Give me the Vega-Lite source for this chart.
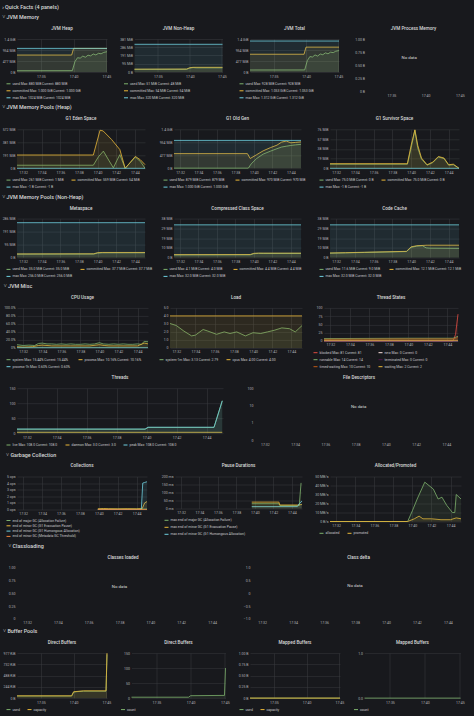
{
  "$schema": "https://vega.github.io/schema/vega-lite/v6.json",
  "background": "#18191d",
  "padding": {"left": 2, "top": 4, "right": 9, "bottom": 4.5},
  "title": {"text": "›  Quick Facts   (4 panels)", "anchor": "start", "fontSize": 5.4, "fontWeight": 500, "color": "#d8d9da", "offset": 5},
  "spacing": 4.3,
  "resolve": {"scale": {"color": "independent"}, "legend": {"color": "independent"}},
  "config": {
    "font": "Roboto",
    "view": {"stroke": null},
    "title": {"color": "#d8d9da", "fontSize": 4.6, "fontWeight": 500, "offset": 6.5},
    "axis": {"labelFontSize": 3.5, "labelColor": "#b0b1b4", "gridColor": "#3a3c41", "gridWidth": 0.5, "domain": false, "ticks": false, "labelPadding": 2, "labelOverlap": false},
    "axisX": {"labelFlush": false},
    "legend": {"orient": "none", "direction": "horizontal", "legendX": -11, "symbolType": "stroke", "symbolSize": 16, "symbolStrokeWidth": 1, "labelFontSize": 3.4, "labelColor": "#c7c8ca", "rowPadding": 2, "columnPadding": 5, "labelOffset": 1.5, "padding": 0, "gridAlign": "none"},
    "text": {"font": "Roboto"}
  },
  "datasets": {
    "jvmHeap": [
      {"s":"used","t":31.35,"v":55},{"s":"used","t":35,"v":56},{"s":"used","t":39.8,"v":58},{"s":"used","t":40.2,"v":450},{"s":"used","t":40.6,"v":620},{"s":"used","t":41,"v":600},{"s":"used","t":41.4,"v":690},{"s":"used","t":41.8,"v":640},{"s":"used","t":42.2,"v":730},{"s":"used","t":42.6,"v":700},{"s":"used","t":43,"v":780},{"s":"used","t":43.4,"v":740},{"s":"used","t":43.8,"v":810},{"s":"used","t":44.2,"v":790},{"s":"used","t":44.6,"v":850},{"s":"used","t":45.1,"v":880},
      {"s":"committed","t":31.35,"v":735},{"s":"committed","t":39.7,"v":735},{"s":"committed","t":40,"v":1024},{"s":"committed","t":45.1,"v":1024},
      {"s":"max","t":31.35,"v":1024},{"s":"max","t":45.1,"v":1024}
    ],
    "jvmNonHeap": [
      {"s":"used","t":31.35,"v":30},{"s":"used","t":39.5,"v":31},{"s":"used","t":40,"v":45},{"s":"used","t":40.5,"v":51},{"s":"used","t":41,"v":48},{"s":"used","t":45.1,"v":48},
      {"s":"committed","t":31.35,"v":33},{"s":"committed","t":39.5,"v":34},{"s":"committed","t":40,"v":50},{"s":"committed","t":40.5,"v":54},{"s":"committed","t":45.1,"v":54},
      {"s":"max","t":31.35,"v":320},{"s":"max","t":45.1,"v":320}
    ],
    "jvmTotal": [
      {"s":"used","t":31.35,"v":88},{"s":"used","t":39.8,"v":90},{"s":"used","t":40.2,"v":490},{"s":"used","t":40.6,"v":670},{"s":"used","t":41,"v":650},{"s":"used","t":41.4,"v":740},{"s":"used","t":41.8,"v":690},{"s":"used","t":42.2,"v":780},{"s":"used","t":42.6,"v":750},{"s":"used","t":43,"v":830},{"s":"used","t":43.4,"v":790},{"s":"used","t":43.8,"v":860},{"s":"used","t":44.2,"v":840},{"s":"used","t":44.6,"v":900},{"s":"used","t":45.1,"v":928},
      {"s":"committed","t":31.35,"v":770},{"s":"committed","t":39.7,"v":770},{"s":"committed","t":40,"v":1078},{"s":"committed","t":45.1,"v":1078},
      {"s":"max","t":31.35,"v":1343},{"s":"max","t":45.1,"v":1343}
    ],
    "eden": [
      {"s":"used","t":31.35,"v":45},{"s":"used","t":39.55,"v":45},{"s":"used","t":40.1,"v":170},{"s":"used","t":40.63,"v":252},{"s":"used","t":41.2,"v":120},{"s":"used","t":41.7,"v":8},{"s":"used","t":42.1,"v":120},{"s":"used","t":42.4,"v":200},{"s":"used","t":42.97,"v":0},{"s":"used","t":43.5,"v":80},{"s":"used","t":44.06,"v":165},{"s":"used","t":44.6,"v":100},{"s":"used","t":45.1,"v":1},
      {"s":"committed","t":31.35,"v":195},{"s":"committed","t":39.55,"v":195},{"s":"committed","t":40.27,"v":558},{"s":"committed","t":40.6,"v":548},{"s":"committed","t":41.5,"v":424},{"s":"committed","t":42.4,"v":274},{"s":"committed","t":42.97,"v":0},{"s":"committed","t":44.06,"v":174},{"s":"committed","t":44.6,"v":125},{"s":"committed","t":45.1,"v":54},
      {"s":"max","t":31.35,"v":0},{"s":"max","t":45.1,"v":0}
    ],
    "oldGen": [
      {"s":"used","t":31.35,"v":5},{"s":"used","t":39.4,"v":5},{"s":"used","t":39.7,"v":160},{"s":"used","t":40.3,"v":360},{"s":"used","t":41,"v":520},{"s":"used","t":41.8,"v":630},{"s":"used","t":42.5,"v":720},{"s":"used","t":43,"v":780},{"s":"used","t":43.5,"v":810},{"s":"used","t":44,"v":840},{"s":"used","t":44.5,"v":860},{"s":"used","t":45.1,"v":879},
      {"s":"committed","t":31.35,"v":538},{"s":"committed","t":39.3,"v":538},{"s":"committed","t":39.6,"v":360},{"s":"committed","t":40.3,"v":500},{"s":"committed","t":41,"v":640},{"s":"committed","t":41.8,"v":760},{"s":"committed","t":42.5,"v":850},{"s":"committed","t":43,"v":960},{"s":"committed","t":43.5,"v":1000},{"s":"committed","t":44,"v":935},{"s":"committed","t":44.5,"v":950},{"s":"committed","t":45.1,"v":970},
      {"s":"max","t":31.35,"v":1024},{"s":"max","t":45.1,"v":1024}
    ],
    "survivor": [
      {"s":"used","t":31.35,"v":8},{"s":"used","t":39.6,"v":8},{"s":"used","t":40,"v":40},{"s":"used","t":40.4,"v":74},{"s":"used","t":40.7,"v":40},{"s":"used","t":41.1,"v":18},{"s":"used","t":41.7,"v":6},{"s":"used","t":42.3,"v":11},{"s":"used","t":42.9,"v":22},{"s":"used","t":43.5,"v":19},{"s":"used","t":44,"v":6},{"s":"used","t":44.5,"v":7},{"s":"used","t":45.1,"v":0},
      {"s":"committed","t":31.35,"v":9},{"s":"committed","t":39.6,"v":9},{"s":"committed","t":40,"v":45},{"s":"committed","t":40.4,"v":75},{"s":"committed","t":40.7,"v":45},{"s":"committed","t":41.1,"v":20},{"s":"committed","t":41.7,"v":7},{"s":"committed","t":42.3,"v":12},{"s":"committed","t":42.9,"v":23},{"s":"committed","t":43.5,"v":20},{"s":"committed","t":44,"v":7},{"s":"committed","t":44.5,"v":8},{"s":"committed","t":45.1,"v":0},
      {"s":"max","t":31.35,"v":0},{"s":"max","t":45.1,"v":0}
    ],
    "metaspace": [
      {"s":"used","t":31.35,"v":25},{"s":"used","t":39.6,"v":26},{"s":"used","t":40,"v":33},{"s":"used","t":40.5,"v":35},{"s":"used","t":45.1,"v":35},
      {"s":"committed","t":31.35,"v":27},{"s":"committed","t":39.6,"v":28},{"s":"committed","t":40,"v":36},{"s":"committed","t":40.5,"v":37.7},{"s":"committed","t":45.1,"v":37.7},
      {"s":"max","t":31.35,"v":256},{"s":"max","t":45.1,"v":256}
    ],
    "ccs": [
      {"s":"used","t":31.35,"v":2.6},{"s":"used","t":39.6,"v":2.7},{"s":"used","t":40,"v":3.8},{"s":"used","t":40.5,"v":4.1},{"s":"used","t":41,"v":4.0},{"s":"used","t":45.1,"v":4.0},
      {"s":"committed","t":31.35,"v":2.9},{"s":"committed","t":39.6,"v":3.0},{"s":"committed","t":40,"v":4.2},{"s":"committed","t":40.5,"v":4.4},{"s":"committed","t":45.1,"v":4.4},
      {"s":"max","t":31.35,"v":32},{"s":"max","t":45.1,"v":32}
    ],
    "codeCache": [
      {"s":"used","t":31.35,"v":4.3},{"s":"used","t":33,"v":4.6},{"s":"used","t":35,"v":5.0},{"s":"used","t":37,"v":5.4},{"s":"used","t":39.5,"v":5.9},{"s":"used","t":40,"v":10},{"s":"used","t":40.6,"v":11.2},{"s":"used","t":41.2,"v":11.6},{"s":"used","t":41.6,"v":9.5},{"s":"used","t":42,"v":9.2},{"s":"used","t":45.1,"v":9.0},
      {"s":"committed","t":31.35,"v":4.5},{"s":"committed","t":33,"v":4.8},{"s":"committed","t":35,"v":5.2},{"s":"committed","t":37,"v":5.6},{"s":"committed","t":39.5,"v":6.1},{"s":"committed","t":40,"v":10.5},{"s":"committed","t":40.6,"v":11.6},{"s":"committed","t":41.7,"v":12.1},{"s":"committed","t":45.1,"v":12.1},
      {"s":"max","t":31.35,"v":32},{"s":"max","t":45.1,"v":32}
    ],
    "cpu": [
      {"s":"system","t":31.35,"v":8},{"s":"system","t":32,"v":6},{"s":"system","t":32.6,"v":7},{"s":"system","t":33.2,"v":6},{"s":"system","t":33.6,"v":11},{"s":"system","t":34,"v":12},{"s":"system","t":34.5,"v":10},{"s":"system","t":35,"v":10},{"s":"system","t":35.5,"v":9},{"s":"system","t":36,"v":10},{"s":"system","t":36.5,"v":9},{"s":"system","t":37,"v":10},{"s":"system","t":37.5,"v":9},{"s":"system","t":38,"v":9},{"s":"system","t":38.5,"v":10},{"s":"system","t":39,"v":9},{"s":"system","t":39.5,"v":10},{"s":"system","t":40,"v":13},{"s":"system","t":40.4,"v":10},{"s":"system","t":41,"v":9},{"s":"system","t":41.5,"v":10},{"s":"system","t":42,"v":9},{"s":"system","t":42.5,"v":10},{"s":"system","t":43,"v":9},{"s":"system","t":43.5,"v":9},{"s":"system","t":44,"v":10},{"s":"system","t":44.4,"v":9},{"s":"system","t":44.7,"v":16},{"s":"system","t":45.1,"v":15.44},
      {"s":"process","t":31.35,"v":3},{"s":"process","t":32,"v":2},{"s":"process","t":33,"v":3},{"s":"process","t":33.6,"v":6},{"s":"process","t":34,"v":7},{"s":"process","t":35,"v":5},{"s":"process","t":36,"v":5},{"s":"process","t":37,"v":5},{"s":"process","t":38,"v":5},{"s":"process","t":39,"v":5},{"s":"process","t":40,"v":8},{"s":"process","t":40.5,"v":6},{"s":"process","t":41,"v":5},{"s":"process","t":42,"v":5},{"s":"process","t":43,"v":5},{"s":"process","t":44,"v":5},{"s":"process","t":44.7,"v":12},{"s":"process","t":45.1,"v":10.16},
      {"s":"process-1h","t":31.35,"v":0.5},{"s":"process-1h","t":45.1,"v":0.6}
    ],
    "load": [
      {"s":"system-1m","t":31.35,"v":3.05},{"s":"system-1m","t":32,"v":2.8},{"s":"system-1m","t":32.8,"v":2.1},{"s":"system-1m","t":33.6,"v":1.5},{"s":"system-1m","t":34,"v":1.6},{"s":"system-1m","t":34.8,"v":2.3},{"s":"system-1m","t":35.3,"v":2.1},{"s":"system-1m","t":36.2,"v":1.7},{"s":"system-1m","t":37,"v":2.0},{"s":"system-1m","t":37.6,"v":1.8},{"s":"system-1m","t":38.3,"v":2.0},{"s":"system-1m","t":39.2,"v":1.5},{"s":"system-1m","t":40,"v":1.9},{"s":"system-1m","t":40.8,"v":1.8},{"s":"system-1m","t":41.5,"v":2.0},{"s":"system-1m","t":42.2,"v":2.2},{"s":"system-1m","t":43,"v":2.5},{"s":"system-1m","t":43.8,"v":2.4},{"s":"system-1m","t":44.4,"v":2.0},{"s":"system-1m","t":45.1,"v":2.79},
      {"s":"cpus","t":31.35,"v":4},{"s":"cpus","t":45.1,"v":4}
    ],
    "threadStates": [
      {"s":"blocked","t":31.35,"v":0},{"s":"blocked","t":44.6,"v":0},{"s":"blocked","t":44.85,"v":20},{"s":"blocked","t":45.1,"v":81},
      {"s":"new","t":31.35,"v":0},{"s":"new","t":45.1,"v":0},
      {"s":"runnable","t":31.35,"v":7},{"s":"runnable","t":40,"v":8},{"s":"runnable","t":44.6,"v":8},{"s":"runnable","t":45.1,"v":14},
      {"s":"terminated","t":31.35,"v":0},{"s":"terminated","t":45.1,"v":0},
      {"s":"timed-waiting","t":31.35,"v":5},{"s":"timed-waiting","t":40,"v":6},{"s":"timed-waiting","t":44.6,"v":6},{"s":"timed-waiting","t":45.1,"v":10},
      {"s":"waiting","t":31.35,"v":2},{"s":"waiting","t":45.1,"v":2}
    ],
    "threads": [
      {"s":"live","t":31.35,"v":13},{"s":"live","t":39.9,"v":13},{"s":"live","t":40.1,"v":19},{"s":"live","t":44.5,"v":19},{"s":"live","t":45.05,"v":108},
      {"s":"daemon","t":31.35,"v":3},{"s":"daemon","t":45.05,"v":3},
      {"s":"peak","t":31.35,"v":14},{"s":"peak","t":39.9,"v":14},{"s":"peak","t":40.1,"v":20},{"s":"peak","t":44.5,"v":20},{"s":"peak","t":45.05,"v":108}
    ],
    "collections": [
      {"s":"end of major GC (Allocation Failure)","t":39.9,"v":0.05},{"s":"end of major GC (Allocation Failure)","t":45.1,"v":0.08},
      {"s":"end of minor GC (G1 Evacuation Pause)","t":39.9,"v":0.1},{"s":"end of minor GC (G1 Evacuation Pause)","t":40.5,"v":0.15},{"s":"end of minor GC (G1 Evacuation Pause)","t":41,"v":0.12},{"s":"end of minor GC (G1 Evacuation Pause)","t":42,"v":0.1},{"s":"end of minor GC (G1 Evacuation Pause)","t":43,"v":0.12},{"s":"end of minor GC (G1 Evacuation Pause)","t":44,"v":0.1},{"s":"end of minor GC (G1 Evacuation Pause)","t":44.6,"v":0.15},{"s":"end of minor GC (G1 Evacuation Pause)","t":44.85,"v":1.0},{"s":"end of minor GC (G1 Evacuation Pause)","t":45.1,"v":1.2},
      {"s":"end of minor GC (G1 Humongous Allocation)","t":39.9,"v":0},{"s":"end of minor GC (G1 Humongous Allocation)","t":44.5,"v":0},{"s":"end of minor GC (G1 Humongous Allocation)","t":44.65,"v":4.0},{"s":"end of minor GC (G1 Humongous Allocation)","t":44.85,"v":4.1},{"s":"end of minor GC (G1 Humongous Allocation)","t":45.1,"v":4.2},
      {"s":"end of minor GC (Metadata GC Threshold)","t":39.9,"v":0},{"s":"end of minor GC (Metadata GC Threshold)","t":45.1,"v":0}
    ],
    "pauses": [
      {"s":"max end of major GC (Allocation Failure)","t":39.66,"v":30},{"s":"max end of major GC (Allocation Failure)","t":42.6,"v":30},{"s":"max end of major GC (Allocation Failure)","t":42.7,"v":18},{"s":"max end of major GC (Allocation Failure)","t":44.8,"v":18},{"s":"max end of major GC (Allocation Failure)","t":45.0,"v":160},
      {"s":"max end of minor GC (G1 Evacuation Pause)","t":39.66,"v":40},{"s":"max end of minor GC (G1 Evacuation Pause)","t":42.6,"v":40},{"s":"max end of minor GC (G1 Evacuation Pause)","t":42.7,"v":22},{"s":"max end of minor GC (G1 Evacuation Pause)","t":44.6,"v":22},{"s":"max end of minor GC (G1 Evacuation Pause)","t":45.1,"v":25},
      {"s":"max end of minor GC (G1 Humongous Allocation)","t":39.66,"v":12},{"s":"max end of minor GC (G1 Humongous Allocation)","t":44.6,"v":12},{"s":"max end of minor GC (G1 Humongous Allocation)","t":44.8,"v":30},{"s":"max end of minor GC (G1 Humongous Allocation)","t":45.1,"v":47}
    ],
    "allocProm": [
      {"s":"allocated","t":31.35,"v":0},{"s":"allocated","t":39.5,"v":0},{"s":"allocated","t":40,"v":12},{"s":"allocated","t":40.5,"v":25},{"s":"allocated","t":41.3,"v":43.7},{"s":"allocated","t":42.2,"v":36},{"s":"allocated","t":42.7,"v":25},{"s":"allocated","t":43.1,"v":27},{"s":"allocated","t":43.6,"v":18},{"s":"allocated","t":44.2,"v":10},{"s":"allocated","t":44.45,"v":10},{"s":"allocated","t":44.6,"v":30},{"s":"allocated","t":45.1,"v":25},
      {"s":"promoted","t":31.35,"v":0},{"s":"promoted","t":39.5,"v":0},{"s":"promoted","t":40.2,"v":3},{"s":"promoted","t":40.7,"v":6},{"s":"promoted","t":41.1,"v":3},{"s":"promoted","t":42,"v":3},{"s":"promoted","t":43,"v":2},{"s":"promoted","t":44,"v":2},{"s":"promoted","t":44.6,"v":4},{"s":"promoted","t":45.1,"v":3}
    ],
    "directMem": [
      {"s":"used","t":31.35,"v":45},{"s":"used","t":39.7,"v":45},{"s":"used","t":40,"v":130},{"s":"used","t":40.5,"v":140},{"s":"used","t":41.5,"v":150},{"s":"used","t":44.95,"v":150},{"s":"used","t":45.1,"v":950},
      {"s":"capacity","t":31.35,"v":50},{"s":"capacity","t":39.7,"v":50},{"s":"capacity","t":40,"v":138},{"s":"capacity","t":41.5,"v":158},{"s":"capacity","t":44.95,"v":158},{"s":"capacity","t":45.1,"v":977}
    ],
    "directCount": [
      {"s":"count","t":31.35,"v":3},{"s":"count","t":39.7,"v":3},{"s":"count","t":40,"v":8},{"s":"count","t":44.95,"v":9},{"s":"count","t":45.1,"v":100}
    ],
    "mappedMem": [
      {"s":"used","t":31.35,"v":0},{"s":"used","t":45.1,"v":0},
      {"s":"capacity","t":31.35,"v":0},{"s":"capacity","t":45.1,"v":0}
    ],
    "mappedCount": [
      {"s":"count","t":31.35,"v":0},{"s":"count","t":45.1,"v":0}
    ],
    "noData": [{"msg": "No data"}]
  },
  "vconcat": [
    {
      "title": {"text": "˅  JVM Memory", "anchor": "start", "fontSize": 5.4, "offset": 5.5},
      "bounds": "flush", "spacing": 27.5,
      "resolve": {"scale": {"color": "independent"}, "legend": {"color": "independent"}},
      "hconcat": [
        {
          "title": "JVM Heap", "width": 90, "height": 33, "data": {"name": "jvmHeap"},
          "encoding": {
            "x": {"field": "t", "type": "quantitative", "scale": {"domain": [31.35, 45.1], "nice": false, "zero": false}, "axis": {"title": null, "values": [35, 40, 45], "labelExpr": "'17:' + datum.value"}},
            "y": {"field": "v", "type": "quantitative", "stack": null, "scale": {"domain": [0, 1431], "nice": false}, "axis": {"title": null, "values": [0, 477, 954, 1431], "labelExpr": "datum.value == 0 ? '0 B' : datum.value > 1400 ? '1.4 GiB' : datum.value + ' MiB'"}},
            "color": {"field": "s", "type": "nominal", "scale": {"domain": ["used", "committed", "max"], "range": ["#7EB26D", "#EAB839", "#6ED0E0"]}, "legend": {"title": null, "legendY": 42.3, "columns": 1, "labelExpr": "datum.label == 'used' ? 'used Max: 880 MiB Current: 880 MiB' : datum.label == 'committed' ? 'committed Max: 1.000 GiB Current: 1.000 GiB' : 'max Max: 1024 MiB Current: 1024 MiB'"}}
          },
          "layer": [
            {"mark": {"type": "line", "strokeWidth": 0.8}},
            {"mark": {"type": "area", "fillOpacity": 0.1}}
          ]
        },
        {
          "title": "JVM Non-Heap", "width": 88, "height": 33, "data": {"name": "jvmNonHeap"},
          "encoding": {
            "x": {"field": "t", "type": "quantitative", "scale": {"domain": [31.35, 45.1], "nice": false, "zero": false}, "axis": {"title": null, "values": [35, 40, 45], "labelExpr": "'17:' + datum.value"}},
            "y": {"field": "v", "type": "quantitative", "stack": null, "scale": {"domain": [0, 381], "nice": false}, "axis": {"title": null, "values": [0, 95, 191, 286, 381], "labelExpr": "datum.value == 0 ? '0 B' : datum.value + ' MiB'"}},
            "color": {"field": "s", "type": "nominal", "scale": {"domain": ["used", "committed", "max"], "range": ["#7EB26D", "#EAB839", "#6ED0E0"]}, "legend": {"title": null, "legendY": 42.3, "columns": 1, "labelExpr": "datum.label == 'used' ? 'used Max: 51 MiB Current: 48 MiB' : datum.label == 'committed' ? 'committed Max: 54 MiB Current: 54 MiB' : 'max Max: 320 MiB Current: 320 MiB'"}}
          },
          "layer": [
            {"mark": {"type": "line", "strokeWidth": 0.8}},
            {"mark": {"type": "area", "fillOpacity": 0.1}}
          ]
        },
        {
          "title": "JVM Total", "width": 89, "height": 33, "data": {"name": "jvmTotal"},
          "encoding": {
            "x": {"field": "t", "type": "quantitative", "scale": {"domain": [31.35, 45.1], "nice": false, "zero": false}, "axis": {"title": null, "values": [35, 40, 45], "labelExpr": "'17:' + datum.value"}},
            "y": {"field": "v", "type": "quantitative", "stack": null, "scale": {"domain": [0, 1431], "nice": false}, "axis": {"title": null, "values": [0, 477, 954, 1431], "labelExpr": "datum.value == 0 ? '0 B' : datum.value > 1400 ? '1.4 GiB' : datum.value + ' MiB'"}},
            "color": {"field": "s", "type": "nominal", "scale": {"domain": ["used", "committed", "max"], "range": ["#7EB26D", "#EAB839", "#6ED0E0"]}, "legend": {"title": null, "legendY": 42.3, "columns": 1, "labelExpr": "datum.label == 'used' ? 'used Max: 928 MiB Current: 928 MiB' : datum.label == 'committed' ? 'committed Max: 1.053 GiB Current: 1.053 GiB' : 'max Max: 1.312 GiB Current: 1.312 GiB'"}}
          },
          "layer": [
            {"mark": {"type": "line", "strokeWidth": 0.8}},
            {"mark": {"type": "area", "fillOpacity": 0.1}}
          ]
        },
        {
          "title": "JVM Process Memory", "width": 94, "height": 52, "data": {"name": "noData"},
          "mark": {"type": "text", "fontSize": 4.4, "color": "#d8d9da"},
          "encoding": {
            "x": {"datum": 37.6, "type": "quantitative", "scale": {"domain": [31.35, 45.1], "nice": false, "zero": false}, "axis": {"title": null, "values": [35, 40, 45], "labelExpr": "'17:' + datum.value"}},
            "y": {"datum": 0.63, "type": "quantitative", "scale": {"domain": [0, 1], "nice": false}, "axis": {"title": null, "values": [0, 0.25, 0.5, 0.75, 1], "labelExpr": "datum.value == 0 ? '0 B' : format(datum.value, '.2f') + ' B'"}},
            "text": {"field": "msg"}
          }
        }
      ]
    },
    {
      "title": {"text": "˅  JVM Memory Pools (Heap)", "anchor": "start", "fontSize": 5.4, "offset": 5.5},
      "bounds": "flush", "spacing": 29,
      "resolve": {"scale": {"color": "independent"}, "legend": {"color": "independent"}},
      "hconcat": [
        {
          "title": "G1 Eden Space", "width": 128, "height": 39, "data": {"name": "eden"},
          "encoding": {
            "x": {"field": "t", "type": "quantitative", "scale": {"domain": [31.35, 45.1], "nice": false, "zero": false}, "axis": {"title": null, "values": [32, 34, 36, 38, 40, 42, 44], "labelExpr": "'17:' + datum.value"}},
            "y": {"field": "v", "type": "quantitative", "stack": null, "scale": {"domain": [0, 572], "nice": false}, "axis": {"title": null, "values": [0, 191, 381, 572], "labelExpr": "datum.value == 0 ? '0 B' : datum.value + ' MiB'"}},
            "color": {"field": "s", "type": "nominal", "scale": {"domain": ["used", "committed", "max"], "range": ["#7EB26D", "#EAB839", "#6ED0E0"]}, "legend": {"title": null, "legendY": 48.3, "columns": 2, "labelExpr": "datum.label == 'used' ? 'used Max: 261 MiB Current: 1 MiB' : datum.label == 'committed' ? 'committed Max: 559 MiB Current: 54 MiB' : 'max Max: -1 B Current: -1 B'"}}
          },
          "layer": [
            {"mark": {"type": "line", "strokeWidth": 0.8}},
            {"mark": {"type": "area", "fillOpacity": 0.1}}
          ]
        },
        {
          "title": "G1 Old Gen", "width": 127, "height": 39, "data": {"name": "oldGen"},
          "encoding": {
            "x": {"field": "t", "type": "quantitative", "scale": {"domain": [31.35, 45.1], "nice": false, "zero": false}, "axis": {"title": null, "values": [32, 34, 36, 38, 40, 42, 44], "labelExpr": "'17:' + datum.value"}},
            "y": {"field": "v", "type": "quantitative", "stack": null, "scale": {"domain": [0, 1431], "nice": false}, "axis": {"title": null, "values": [0, 477, 954, 1431], "labelExpr": "datum.value == 0 ? '0 B' : datum.value > 1400 ? '1.4 GiB' : datum.value + ' MiB'"}},
            "color": {"field": "s", "type": "nominal", "scale": {"domain": ["used", "committed", "max"], "range": ["#7EB26D", "#EAB839", "#6ED0E0"]}, "legend": {"title": null, "legendY": 48.3, "columns": 2, "labelExpr": "datum.label == 'used' ? 'used Max: 879 MiB Current: 879 MiB' : datum.label == 'committed' ? 'committed Max: 970 MiB Current: 970 MiB' : 'max Max: 1.000 GiB Current: 1.000 GiB'"}}
          },
          "layer": [
            {"mark": {"type": "line", "strokeWidth": 0.8}},
            {"mark": {"type": "area", "fillOpacity": 0.1}}
          ]
        },
        {
          "title": "G1 Survivor Space", "width": 129, "height": 39, "data": {"name": "survivor"},
          "encoding": {
            "x": {"field": "t", "type": "quantitative", "scale": {"domain": [31.35, 45.1], "nice": false, "zero": false}, "axis": {"title": null, "values": [32, 34, 36, 38, 40, 42, 44], "labelExpr": "'17:' + datum.value"}},
            "y": {"field": "v", "type": "quantitative", "stack": null, "scale": {"domain": [0, 76], "nice": false}, "axis": {"title": null, "values": [0, 19, 38, 57, 76], "labelExpr": "datum.value == 0 ? '0 B' : datum.value + ' MiB'"}},
            "color": {"field": "s", "type": "nominal", "scale": {"domain": ["used", "committed", "max"], "range": ["#7EB26D", "#EAB839", "#6ED0E0"]}, "legend": {"title": null, "legendY": 48.3, "columns": 2, "labelExpr": "datum.label == 'used' ? 'used Max: 75.0 MiB Current: 0 B' : datum.label == 'committed' ? 'committed Max: 75.0 MiB Current: 0 B' : 'max Max: -1 B Current: -1 B'"}}
          },
          "layer": [
            {"mark": {"type": "line", "strokeWidth": 0.8}},
            {"mark": {"type": "area", "fillOpacity": 0.1}}
          ]
        }
      ]
    },
    {
      "title": {"text": "˅  JVM Memory Pools (Non-Heap)", "anchor": "start", "fontSize": 5.4, "offset": 5.5},
      "bounds": "flush", "spacing": 29,
      "resolve": {"scale": {"color": "independent"}, "legend": {"color": "independent"}},
      "hconcat": [
        {
          "title": "Metaspace", "width": 128, "height": 39, "data": {"name": "metaspace"},
          "encoding": {
            "x": {"field": "t", "type": "quantitative", "scale": {"domain": [31.35, 45.1], "nice": false, "zero": false}, "axis": {"title": null, "values": [32, 34, 36, 38, 40, 42, 44], "labelExpr": "'17:' + datum.value"}},
            "y": {"field": "v", "type": "quantitative", "stack": null, "scale": {"domain": [0, 286], "nice": false}, "axis": {"title": null, "values": [0, 95, 191, 286], "labelExpr": "datum.value == 0 ? '0 B' : datum.value + ' MiB'"}},
            "color": {"field": "s", "type": "nominal", "scale": {"domain": ["used", "committed", "max"], "range": ["#7EB26D", "#EAB839", "#6ED0E0"]}, "legend": {"title": null, "legendY": 48.3, "columns": 2, "labelExpr": "datum.label == 'used' ? 'used Max: 35.0 MiB Current: 35.0 MiB' : datum.label == 'committed' ? 'committed Max: 37.7 MiB Current: 37.7 MiB' : 'max Max: 256.0 MiB Current: 256.0 MiB'"}}
          },
          "layer": [
            {"mark": {"type": "line", "strokeWidth": 0.8}},
            {"mark": {"type": "area", "fillOpacity": 0.1}}
          ]
        },
        {
          "title": "Compressed Class Space", "width": 127, "height": 39, "data": {"name": "ccs"},
          "encoding": {
            "x": {"field": "t", "type": "quantitative", "scale": {"domain": [31.35, 45.1], "nice": false, "zero": false}, "axis": {"title": null, "values": [32, 34, 36, 38, 40, 42, 44], "labelExpr": "'17:' + datum.value"}},
            "y": {"field": "v", "type": "quantitative", "stack": null, "scale": {"domain": [0, 38.1], "nice": false}, "axis": {"title": null, "values": [0, 9.5, 19, 28.6, 38.1], "labelExpr": "datum.value == 0 ? '0 B' : format(datum.value, '.0f') + ' MiB'"}},
            "color": {"field": "s", "type": "nominal", "scale": {"domain": ["used", "committed", "max"], "range": ["#7EB26D", "#EAB839", "#6ED0E0"]}, "legend": {"title": null, "legendY": 48.3, "columns": 2, "labelExpr": "datum.label == 'used' ? 'used Max: 4.1 MiB Current: 4.0 MiB' : datum.label == 'committed' ? 'committed Max: 4.4 MiB Current: 4.4 MiB' : 'max Max: 32.0 MiB Current: 32.0 MiB'"}}
          },
          "layer": [
            {"mark": {"type": "line", "strokeWidth": 0.8}},
            {"mark": {"type": "area", "fillOpacity": 0.1}}
          ]
        },
        {
          "title": "Code Cache", "width": 129, "height": 39, "data": {"name": "codeCache"},
          "encoding": {
            "x": {"field": "t", "type": "quantitative", "scale": {"domain": [31.35, 45.1], "nice": false, "zero": false}, "axis": {"title": null, "values": [32, 34, 36, 38, 40, 42, 44], "labelExpr": "'17:' + datum.value"}},
            "y": {"field": "v", "type": "quantitative", "stack": null, "scale": {"domain": [0, 38.1], "nice": false}, "axis": {"title": null, "values": [0, 9.5, 19, 28.6, 38.1], "labelExpr": "datum.value == 0 ? '0 B' : format(datum.value, '.0f') + ' MiB'"}},
            "color": {"field": "s", "type": "nominal", "scale": {"domain": ["used", "committed", "max"], "range": ["#7EB26D", "#EAB839", "#6ED0E0"]}, "legend": {"title": null, "legendY": 48.3, "columns": 2, "labelExpr": "datum.label == 'used' ? 'used Max: 11.6 MiB Current: 9.0 MiB' : datum.label == 'committed' ? 'committed Max: 12.1 MiB Current: 12.1 MiB' : 'max Max: 32.0 MiB Current: 32.0 MiB'"}}
          },
          "layer": [
            {"mark": {"type": "line", "strokeWidth": 0.8}},
            {"mark": {"type": "area", "fillOpacity": 0.1}}
          ]
        }
      ]
    },
    {
      "title": {"text": "˅  JVM Misc", "anchor": "start", "fontSize": 5.4, "offset": 5.5},
      "bounds": "flush", "spacing": 22,
      "resolve": {"scale": {"color": "independent"}, "legend": {"color": "independent"}},
      "hconcat": [
        {
          "title": "CPU Usage", "width": 131, "height": 40, "data": {"name": "cpu"},
          "encoding": {
            "x": {"field": "t", "type": "quantitative", "scale": {"domain": [31.35, 45.1], "nice": false, "zero": false}, "axis": {"title": null, "values": [32, 34, 36, 38, 40, 42, 44], "labelExpr": "'17:' + datum.value"}},
            "y": {"field": "v", "type": "quantitative", "stack": null, "scale": {"domain": [0, 100], "nice": false}, "axis": {"title": null, "values": [0, 20, 40, 60, 80, 100], "labelExpr": "datum.value == 0 ? '0%' : format(datum.value, '.1f') + '%'"}},
            "color": {"field": "s", "type": "nominal", "scale": {"domain": ["system", "process", "process-1h"], "range": ["#7EB26D", "#EAB839", "#6ED0E0"]}, "legend": {"title": null, "legendY": 49.3, "columns": 2, "labelExpr": "datum.label == 'system' ? 'system Max: 15.44% Current: 15.44%' : datum.label == 'process' ? 'process Max: 10.16% Current: 10.16%' : 'process-1h Max: 0.60% Current: 0.60%'"}}
          },
          "layer": [
            {"mark": {"type": "line", "strokeWidth": 0.8}},
            {"mark": {"type": "area", "fillOpacity": 0.1}}
          ]
        },
        {
          "title": "Load", "width": 132, "height": 40, "data": {"name": "load"},
          "encoding": {
            "x": {"field": "t", "type": "quantitative", "scale": {"domain": [31.35, 45.1], "nice": false, "zero": false}, "axis": {"title": null, "values": [32, 34, 36, 38, 40, 42, 44], "labelExpr": "'17:' + datum.value"}},
            "y": {"field": "v", "type": "quantitative", "stack": null, "scale": {"domain": [0, 5], "nice": false}, "axis": {"title": null, "values": [0, 1, 2, 3, 4, 5], "labelExpr": "datum.value == 0 ? '0' : format(datum.value, '.1f')"}},
            "color": {"field": "s", "type": "nominal", "scale": {"domain": ["system-1m", "cpus"], "range": ["#7EB26D", "#EAB839"]}, "legend": {"title": null, "legendY": 49.3, "columns": 2, "labelExpr": "datum.label == 'system-1m' ? 'system-1m Max: 3.13 Current: 2.79' : 'cpus Max: 4.00 Current: 4.00'"}}
          },
          "layer": [
            {"mark": {"type": "line", "strokeWidth": 0.8}},
            {"mark": {"type": "area", "fillOpacity": 0.1}}
          ]
        },
        {
          "title": "Thread States", "width": 134, "height": 33, "data": {"name": "threadStates"},
          "encoding": {
            "x": {"field": "t", "type": "quantitative", "scale": {"domain": [31.35, 45.1], "nice": false, "zero": false}, "axis": {"title": null, "values": [32, 34, 36, 38, 40, 42, 44], "labelExpr": "'17:' + datum.value"}},
            "y": {"field": "v", "type": "quantitative", "stack": null, "scale": {"domain": [0, 100], "nice": false}, "axis": {"title": null, "values": [0, 25, 50, 75, 100]}},
            "color": {"field": "s", "type": "nominal", "scale": {"domain": ["blocked", "new", "runnable", "terminated", "timed-waiting", "waiting"], "range": ["#E24D42", "#FCE2DE", "#7EB26D", "#511749", "#C15C17", "#EAB839"]}, "legend": {"title": null, "legendY": 42.3, "columns": 2, "labelExpr": "datum.label == 'blocked' ? 'blocked Max: 81 Current: 81' : datum.label == 'new' ? 'new Max: 0 Current: 0' : datum.label == 'runnable' ? 'runnable Max: 14 Current: 14' : datum.label == 'terminated' ? 'terminated Max: 0 Current: 0' : datum.label == 'timed-waiting' ? 'timed-waiting Max: 10 Current: 10' : 'waiting Max: 2 Current: 2'"}}
          },
          "layer": [
            {"mark": {"type": "line", "strokeWidth": 0.8}},
            {"mark": {"type": "area", "fillOpacity": 0.1}}
          ]
        }
      ]
    },
    {
      "bounds": "flush", "spacing": 32,
      "resolve": {"scale": {"color": "independent"}, "legend": {"color": "independent"}},
      "hconcat": [
        {
          "title": "Threads", "width": 206, "height": 45, "data": {"name": "threads"},
          "encoding": {
            "x": {"field": "t", "type": "quantitative", "scale": {"domain": [31.35, 45.1], "nice": false, "zero": false}, "axis": {"title": null, "values": [32, 34, 36, 38, 40, 42, 44], "labelExpr": "'17:' + datum.value"}},
            "y": {"field": "v", "type": "quantitative", "stack": null, "scale": {"domain": [0, 150], "nice": false}, "axis": {"title": null, "values": [0, 50, 100, 150]}},
            "color": {"field": "s", "type": "nominal", "scale": {"domain": ["live", "daemon", "peak"], "range": ["#7EB26D", "#EAB839", "#6ED0E0"]}, "legend": {"title": null, "legendY": 54.3, "columns": 3, "labelExpr": "datum.label == 'live' ? 'live Max: 108.0 Current: 108.0' : datum.label == 'daemon' ? 'daemon Max: 3.0 Current: 3.0' : 'peak Max: 108.0 Current: 108.0'"}}
          },
          "layer": [
            {"mark": {"type": "line", "strokeWidth": 0.8}},
            {"mark": {"type": "area", "fillOpacity": 0.1}}
          ]
        },
        {
          "title": "File Descriptors", "width": 208, "height": 52, "data": {"name": "noData"},
          "mark": {"type": "text", "fontSize": 4.4, "color": "#d8d9da"},
          "encoding": {
            "x": {"datum": 38.2, "type": "quantitative", "scale": {"domain": [31.35, 45.1], "nice": false, "zero": false}, "axis": {"title": null, "values": [32, 34, 36, 38, 40, 42, 44], "labelExpr": "'17:' + datum.value"}},
            "y": {"datum": 8, "type": "quantitative", "scale": {"type": "log", "domain": [0.1, 100], "nice": false}, "axis": {"title": null, "values": [0.1, 1, 10, 100], "labelExpr": "datum.value < 1 ? '0' : '' + datum.value"}},
            "text": {"field": "msg"}
          }
        }
      ]
    },
    {
      "title": {"text": "˅  Garbage Collection", "anchor": "start", "fontSize": 5.4, "offset": 5.5},
      "bounds": "flush", "spacing": 28,
      "resolve": {"scale": {"color": "independent"}, "legend": {"color": "independent"}},
      "hconcat": [
        {
          "title": "Collections", "width": 130, "height": 33, "data": {"name": "collections"},
          "encoding": {
            "x": {"field": "t", "type": "quantitative", "scale": {"domain": [31.35, 45.1], "nice": false, "zero": false}, "axis": {"title": null, "values": [32, 34, 36, 38, 40, 42, 44], "labelExpr": "'17:' + datum.value"}},
            "y": {"field": "v", "type": "quantitative", "stack": null, "scale": {"domain": [0, 5], "nice": false}, "axis": {"title": null, "values": [0, 1, 2, 3, 4, 5], "labelExpr": "datum.value + ' ops'"}},
            "color": {"field": "s", "type": "nominal", "scale": {"domain": ["end of major GC (Allocation Failure)", "end of minor GC (G1 Evacuation Pause)", "end of minor GC (G1 Humongous Allocation)", "end of minor GC (Metadata GC Threshold)"], "range": ["#7EB26D", "#EAB839", "#6ED0E0", "#EF843C"]}, "legend": {"title": null, "legendY": 41.5, "columns": 1, "rowPadding": 0.3}}
          },
          "layer": [
            {"mark": {"type": "line", "strokeWidth": 0.8}},
            {"mark": {"type": "area", "fillOpacity": 0.1}}
          ]
        },
        {
          "title": "Pause Durations", "width": 127, "height": 32, "data": {"name": "pauses"},
          "encoding": {
            "x": {"field": "t", "type": "quantitative", "scale": {"domain": [31.35, 45.1], "nice": false, "zero": false}, "axis": {"title": null, "values": [32, 34, 36, 38, 40, 42, 44], "labelExpr": "'17:' + datum.value"}},
            "y": {"field": "v", "type": "quantitative", "stack": null, "scale": {"domain": [0, 200], "nice": false}, "axis": {"title": null, "values": [0, 50, 100, 150, 200], "labelExpr": "datum.value + ' ms'"}},
            "color": {"field": "s", "type": "nominal", "scale": {"domain": ["max end of major GC (Allocation Failure)", "max end of minor GC (G1 Evacuation Pause)", "max end of minor GC (G1 Humongous Allocation)"], "range": ["#7EB26D", "#EAB839", "#6ED0E0"]}, "legend": {"title": null, "legendY": 41.3, "columns": 1}}
          },
          "layer": [
            {"mark": {"type": "line", "strokeWidth": 0.8}},
            {"mark": {"type": "area", "fillOpacity": 0.1}}
          ]
        },
        {
          "title": "Allocated/Promoted", "width": 131, "height": 45, "data": {"name": "allocProm"},
          "encoding": {
            "x": {"field": "t", "type": "quantitative", "scale": {"domain": [31.35, 45.1], "nice": false, "zero": false}, "axis": {"title": null, "values": [32, 34, 36, 38, 40, 42, 44], "labelExpr": "'17:' + datum.value"}},
            "y": {"field": "v", "type": "quantitative", "stack": null, "scale": {"domain": [0, 50], "nice": false}, "axis": {"title": null, "values": [0, 10, 20, 30, 40, 50], "labelExpr": "datum.value == 0 ? '0 B/s' : datum.value + ' MB/s'"}},
            "color": {"field": "s", "type": "nominal", "scale": {"domain": ["allocated", "promoted"], "range": ["#7EB26D", "#EAB839"]}, "legend": {"title": null, "legendY": 54.3, "columns": 2}}
          },
          "layer": [
            {"mark": {"type": "line", "strokeWidth": 0.8}},
            {"mark": {"type": "area", "fillOpacity": 0.1}}
          ]
        }
      ]
    },
    {
      "title": {"text": "˅  Classloading", "anchor": "start", "fontSize": 5.4, "offset": 5.5},
      "bounds": "flush", "spacing": 23,
      "hconcat": [
        {
          "title": "Classes loaded", "width": 212, "height": 51, "data": {"name": "noData"},
          "mark": {"type": "text", "fontSize": 4.4, "color": "#d8d9da"},
          "encoding": {
            "x": {"datum": 38.0, "type": "quantitative", "scale": {"domain": [31.35, 45.1], "nice": false, "zero": false}, "axis": {"title": null, "values": [32, 34, 36, 38, 40, 42, 44], "labelExpr": "'17:' + datum.value"}},
            "y": {"datum": 0.63, "type": "quantitative", "scale": {"domain": [0, 1], "nice": false}, "axis": {"title": null, "values": [0, 0.25, 0.5, 0.75, 1], "labelExpr": "datum.value == 0 ? '0' : format(datum.value, '.2f')"}},
            "text": {"field": "msg"}
          }
        },
        {
          "title": "Class delta", "width": 213, "height": 51, "data": {"name": "noData"},
          "mark": {"type": "text", "fontSize": 4.4, "color": "#d8d9da"},
          "encoding": {
            "x": {"datum": 38.0, "type": "quantitative", "scale": {"domain": [31.35, 45.1], "nice": false, "zero": false}, "axis": {"title": null, "values": [32, 34, 36, 38, 40, 42, 44], "labelExpr": "'17:' + datum.value"}},
            "y": {"datum": 0.27, "type": "quantitative", "scale": {"domain": [-1, 1], "nice": false}, "axis": {"title": null, "values": [-1, -0.5, 0, 0.5, 1], "labelExpr": "datum.value == 0 ? '0' : format(datum.value, '.1f')"}},
            "text": {"field": "msg"}
          }
        }
      ]
    },
    {
      "title": {"text": "˅  Buffer Pools", "anchor": "start", "fontSize": 5.4, "offset": 5.5},
      "bounds": "flush", "spacing": 24.5,
      "resolve": {"scale": {"color": "independent"}, "legend": {"color": "independent"}},
      "hconcat": [
        {
          "title": "Direct Buffers", "width": 90, "height": 45, "data": {"name": "directMem"},
          "encoding": {
            "x": {"field": "t", "type": "quantitative", "scale": {"domain": [31.35, 45.1], "nice": false, "zero": false}, "axis": {"title": null, "values": [35, 40, 45], "labelExpr": "'17:' + datum.value"}},
            "y": {"field": "v", "type": "quantitative", "stack": null, "scale": {"domain": [0, 977], "nice": false}, "axis": {"title": null, "values": [0, 244, 488, 732, 977], "labelExpr": "datum.value == 0 ? '0 B' : datum.value + ' KiB'"}},
            "color": {"field": "s", "type": "nominal", "scale": {"domain": ["used", "capacity"], "range": ["#7EB26D", "#EAB839"]}, "legend": {"title": null, "legendY": 54, "columns": 2}}
          },
          "layer": [
            {"mark": {"type": "line", "strokeWidth": 0.8}},
            {"mark": {"type": "area", "fillOpacity": 0.1}}
          ]
        },
        {
          "title": "Direct Buffers", "width": 94, "height": 45, "data": {"name": "directCount"},
          "encoding": {
            "x": {"field": "t", "type": "quantitative", "scale": {"domain": [31.35, 45.1], "nice": false, "zero": false}, "axis": {"title": null, "values": [35, 40, 45], "labelExpr": "'17:' + datum.value"}},
            "y": {"field": "v", "type": "quantitative", "stack": null, "scale": {"domain": [0, 150], "nice": false}, "axis": {"title": null, "values": [0, 50, 100, 150]}},
            "color": {"field": "s", "type": "nominal", "scale": {"domain": ["count"], "range": ["#7EB26D"]}, "legend": {"title": null, "legendY": 54, "columns": 1}}
          },
          "layer": [
            {"mark": {"type": "line", "strokeWidth": 0.8}},
            {"mark": {"type": "area", "fillOpacity": 0.1}}
          ]
        },
        {
          "title": "Mapped Buffers", "width": 90, "height": 45, "data": {"name": "mappedMem"},
          "encoding": {
            "x": {"field": "t", "type": "quantitative", "scale": {"domain": [31.35, 45.1], "nice": false, "zero": false}, "axis": {"title": null, "values": [35, 40, 45], "labelExpr": "'17:' + datum.value"}},
            "y": {"field": "v", "type": "quantitative", "stack": null, "scale": {"domain": [0, 1], "nice": false}, "axis": {"title": null, "values": [0, 0.25, 0.5, 0.75, 1], "labelExpr": "datum.value == 0 ? '0 B' : format(datum.value, '.2f') + ' B'"}},
            "color": {"field": "s", "type": "nominal", "scale": {"domain": ["used", "capacity"], "range": ["#7EB26D", "#EAB839"]}, "legend": {"title": null, "legendY": 54, "columns": 2}}
          },
          "layer": [
            {"mark": {"type": "line", "strokeWidth": 0.8}},
            {"mark": {"type": "area", "fillOpacity": 0.1}}
          ]
        },
        {
          "title": "Mapped Buffers", "width": 96, "height": 45, "data": {"name": "mappedCount"},
          "encoding": {
            "x": {"field": "t", "type": "quantitative", "scale": {"domain": [31.35, 45.1], "nice": false, "zero": false}, "axis": {"title": null, "values": [35, 40, 45], "labelExpr": "'17:' + datum.value"}},
            "y": {"field": "v", "type": "quantitative", "stack": null, "scale": {"domain": [0, 1], "nice": false}, "axis": {"title": null, "values": [0, 1]}},
            "color": {"field": "s", "type": "nominal", "scale": {"domain": ["count"], "range": ["#7EB26D"]}, "legend": {"title": null, "legendY": 54, "columns": 1}}
          },
          "layer": [
            {"mark": {"type": "line", "strokeWidth": 0.8}},
            {"mark": {"type": "area", "fillOpacity": 0.1}}
          ]
        }
      ]
    }
  ]
}
